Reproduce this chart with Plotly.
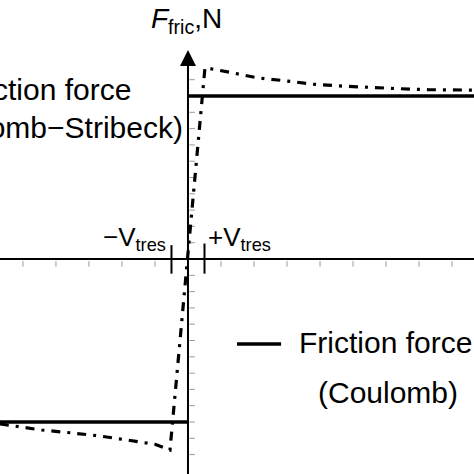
import plotly.graph_objects as go

# friction force vs velocity
# x in units where the big ticks sit at +-1, y in units of the Coulomb level
v_tres = 0.1

coulomb_x = [-1.14, 0, None, 0, 1.74]
coulomb_y = [-1.0, -1.0, None, 1.0, 1.0]

stribeck_x = [-1.14, -0.887, -0.715, -0.533, -0.372, -0.2, -0.109,
              0.103, 0.255, 0.418, 0.6, 0.758, 0.933, 1.103, 1.273, 1.455, 1.63, 1.74]
stribeck_y = [-1.012, -1.049, -1.066, -1.086, -1.110, -1.137, -1.172,
              1.174, 1.145, 1.112, 1.092, 1.072, 1.061, 1.051, 1.045, 1.039, 1.037, 1.036]

xticks = [-1.0, -0.8, -0.6, -0.4, -0.2, 0.2, 0.4, 0.6, 0.8, 1.0, 1.2, 1.4, 1.6]
yticks = [-1.2, -1.1, -1.0, -0.9, -0.8, -0.7, -0.6, -0.5, -0.4, -0.3, -0.2, -0.1,
          0.1, 0.2, 0.3, 0.4, 0.5, 0.6, 0.7, 0.8, 0.9, 1.0, 1.1]

FONT = "Liberation Sans, Arial, sans-serif"

fig = go.Figure()

# tiny tick marks on the axes
fig.add_trace(go.Scatter(x=xticks, y=[-0.03] * len(xticks), mode="markers",
                         marker=dict(symbol="line-ns", size=4, line=dict(width=1, color="#999")),
                         hoverinfo="skip"))
fig.add_trace(go.Scatter(x=[0.025] * len(yticks), y=yticks, mode="markers",
                         marker=dict(symbol="line-ew", size=4, line=dict(width=1, color="#999")),
                         hoverinfo="skip"))

# Coulomb
fig.add_trace(go.Scatter(x=coulomb_x, y=coulomb_y, mode="lines",
                         line=dict(color="black", width=3.5), hoverinfo="skip"))
# Coulomb-Stribeck
fig.add_trace(go.Scatter(x=stribeck_x, y=stribeck_y, mode="lines",
                         line=dict(color="black", width=3.2, dash="9px,7px,3px,7px"),
                         hoverinfo="skip"))

# +-V_tres markers
fig.add_trace(go.Scatter(x=[-v_tres, -v_tres, None, v_tres, v_tres],
                         y=[0.085, -0.09, None, 0.095, -0.09], mode="lines",
                         line=dict(color="black", width=2), hoverinfo="skip"))

# legend sample line (Coulomb)
fig.add_trace(go.Scatter(x=[0.297, 0.564], y=[-0.521, -0.521], mode="lines",
                         line=dict(color="black", width=3.5), hoverinfo="skip"))

fig.update_layout(
    width=474, height=474,
    margin=dict(l=0, r=0, t=0, b=0),
    paper_bgcolor="white", plot_bgcolor="white",
    showlegend=False,
    font=dict(family=FONT, color="black"),
    xaxis=dict(range=[-1.139, 1.733], visible=False),
    yaxis=dict(range=[-1.319, 1.589], showgrid=False, showticklabels=False, ticks="",
               zeroline=True, zerolinecolor="black", zerolinewidth=2, showline=False),
)

ann = [
    # y axis with arrow
    dict(x=0, y=1.282, ax=0, ay=-1.4, xref="x", yref="y", axref="x", ayref="y",
         text="", showarrow=True, arrowhead=2, arrowsize=1.6, arrowwidth=2, arrowcolor="black"),
    dict(x=-0.012, y=1.585, text="<i>F</i><sub>fric</sub>,N", showarrow=False,
         xanchor="center", yanchor="top", font=dict(size=28)),
    dict(x=-0.121, y=0.01, text="−V<sub>tres</sub>", showarrow=False,
         xanchor="right", yanchor="bottom", font=dict(size=26)),
    dict(x=0.109, y=0.01, text="+V<sub>tres</sub>", showarrow=False,
         xanchor="left", yanchor="bottom", font=dict(size=26)),
    dict(x=-0.333, y=1.037, text="Friction force", showarrow=False,
         xanchor="right", yanchor="middle", font=dict(size=30)),
    dict(x=-0.018, y=0.804, text="(Coulomb−Stribeck)", showarrow=False,
         xanchor="right", yanchor="middle", font=dict(size=30)),
    dict(x=0.661, y=-0.515, text="Friction force", showarrow=False,
         xanchor="left", yanchor="middle", font=dict(size=30)),
    dict(x=1.212, y=-0.816, text="(Coulomb)", showarrow=False,
         xanchor="center", yanchor="middle", font=dict(size=30)),
]
fig.update_layout(annotations=ann)

fig.write_html("out.html", config={"displayModeBar": False},
               post_script="document.body.style.margin='0';")
